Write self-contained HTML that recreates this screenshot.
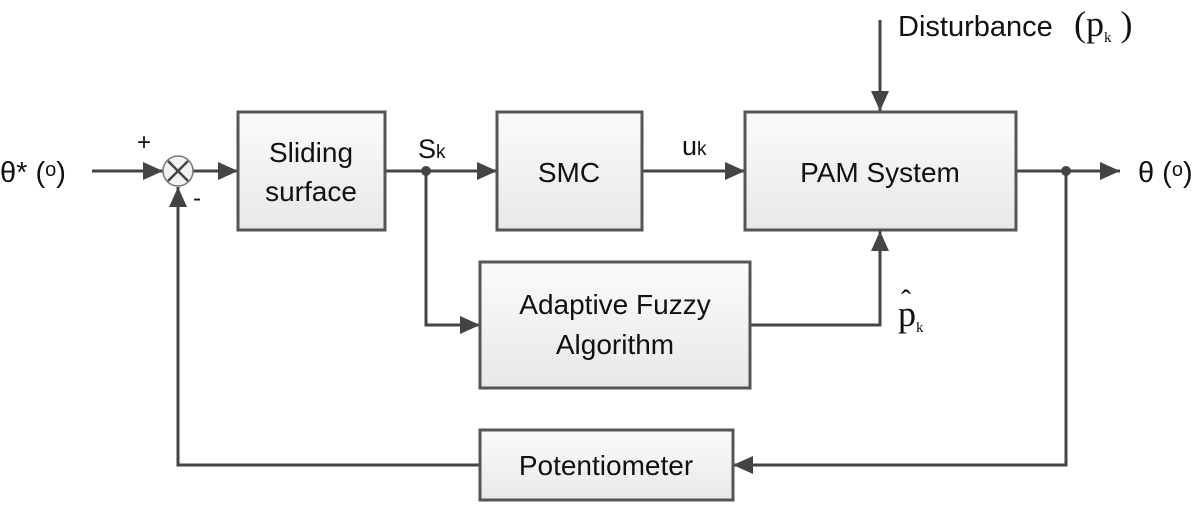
<!DOCTYPE html>
<html><head><meta charset="utf-8"><style>
html,body{margin:0;padding:0;background:#fff;}
svg{display:block;}
text{font-family:"Liberation Sans",sans-serif;fill:#111;}
.s{font-family:"Liberation Serif",serif;}
</style></head><body>
<svg width="1200" height="506" viewBox="0 0 1200 506" xmlns="http://www.w3.org/2000/svg">
<defs>
<linearGradient id="g" x1="0" y1="0" x2="0" y2="1"><stop offset="0" stop-color="#fbfbfb"/><stop offset="1" stop-color="#e8e8e8"/></linearGradient>
<marker id="b" markerWidth="20" markerHeight="18" refX="20" refY="9" orient="auto" markerUnits="userSpaceOnUse"><path d="M0,0 L20,9 L0,18 z" fill="#444"/></marker>
</defs>
<g stroke="#444" stroke-width="3" fill="none">
<line x1="92" y1="171" x2="163" y2="171" marker-end="url(#b)"/>
<line x1="193" y1="171" x2="238" y2="171" marker-end="url(#b)"/>
<line x1="385" y1="171" x2="497" y2="171" marker-end="url(#b)"/>
<line x1="642" y1="171" x2="745" y2="171" marker-end="url(#b)"/>
<line x1="1016" y1="171" x2="1120" y2="171" marker-end="url(#b)"/>
<line x1="880" y1="20" x2="880" y2="111" marker-end="url(#b)"/>
<polyline points="426,171 426,325 480,325" marker-end="url(#b)"/>
<polyline points="750,325 880,325 880,231" marker-end="url(#b)"/>
<polyline points="1066,171 1066,465 733,465" marker-end="url(#b)"/>
<polyline points="480,465 178,465 178,187" marker-end="url(#b)"/>
</g>
<circle cx="178" cy="171" r="15" fill="#f2f2f2" stroke="#777" stroke-width="1.5"/>
<line x1="168" y1="161" x2="188" y2="181" stroke="#444" stroke-width="2.5"/>
<line x1="188" y1="161" x2="168" y2="181" stroke="#444" stroke-width="2.5"/>
<circle cx="426" cy="171" r="5" fill="#444"/>
<circle cx="1066" cy="171" r="5" fill="#444"/>
<g fill="url(#g)" stroke="#555" stroke-width="3">
<rect x="238" y="112" width="147" height="118"/>
<rect x="497" y="112" width="145" height="118"/>
<rect x="745" y="112" width="271" height="118"/>
<rect x="480" y="262" width="270" height="126"/>
<rect x="480" y="430" width="253" height="70"/>
</g>
<g font-size="28" text-anchor="middle">
<text x="311" y="162">Sliding</text>
<text x="311" y="201">surface</text>
<text x="569" y="182">SMC</text>
<text x="880" y="182">PAM System</text>
<text x="615" y="314">Adaptive Fuzzy</text>
<text x="615" y="354">Algorithm</text>
<text x="606" y="475">Potentiometer</text>
</g>
<text x="0" y="182" font-size="29">θ* (<tspan font-size="20" dy="-6">o</tspan><tspan dy="6">)</tspan></text>
<text x="1138" y="182" font-size="29">θ (<tspan font-size="20" dy="-6">o</tspan><tspan dy="6">)</tspan></text>
<text x="137" y="150" font-size="24">+</text>
<text x="193" y="206" font-size="24">-</text>
<text x="418" y="158" font-size="27">S<tspan font-size="19">k</tspan></text>
<text x="682" y="155" font-size="27">u<tspan font-size="19">k</tspan></text>
<text x="898" y="36" font-size="29">Disturbance</text>
<text class="s" x="1074" y="36" font-size="36">(p<tspan font-size="15" dy="6">k</tspan><tspan dy="-6"> )</tspan></text>
<text class="s" x="898" y="326" font-size="36">p<tspan font-size="15" dy="6">k</tspan></text>
<text class="s" x="901" y="310" font-size="30">ˆ</text>
</svg>
</body></html>
